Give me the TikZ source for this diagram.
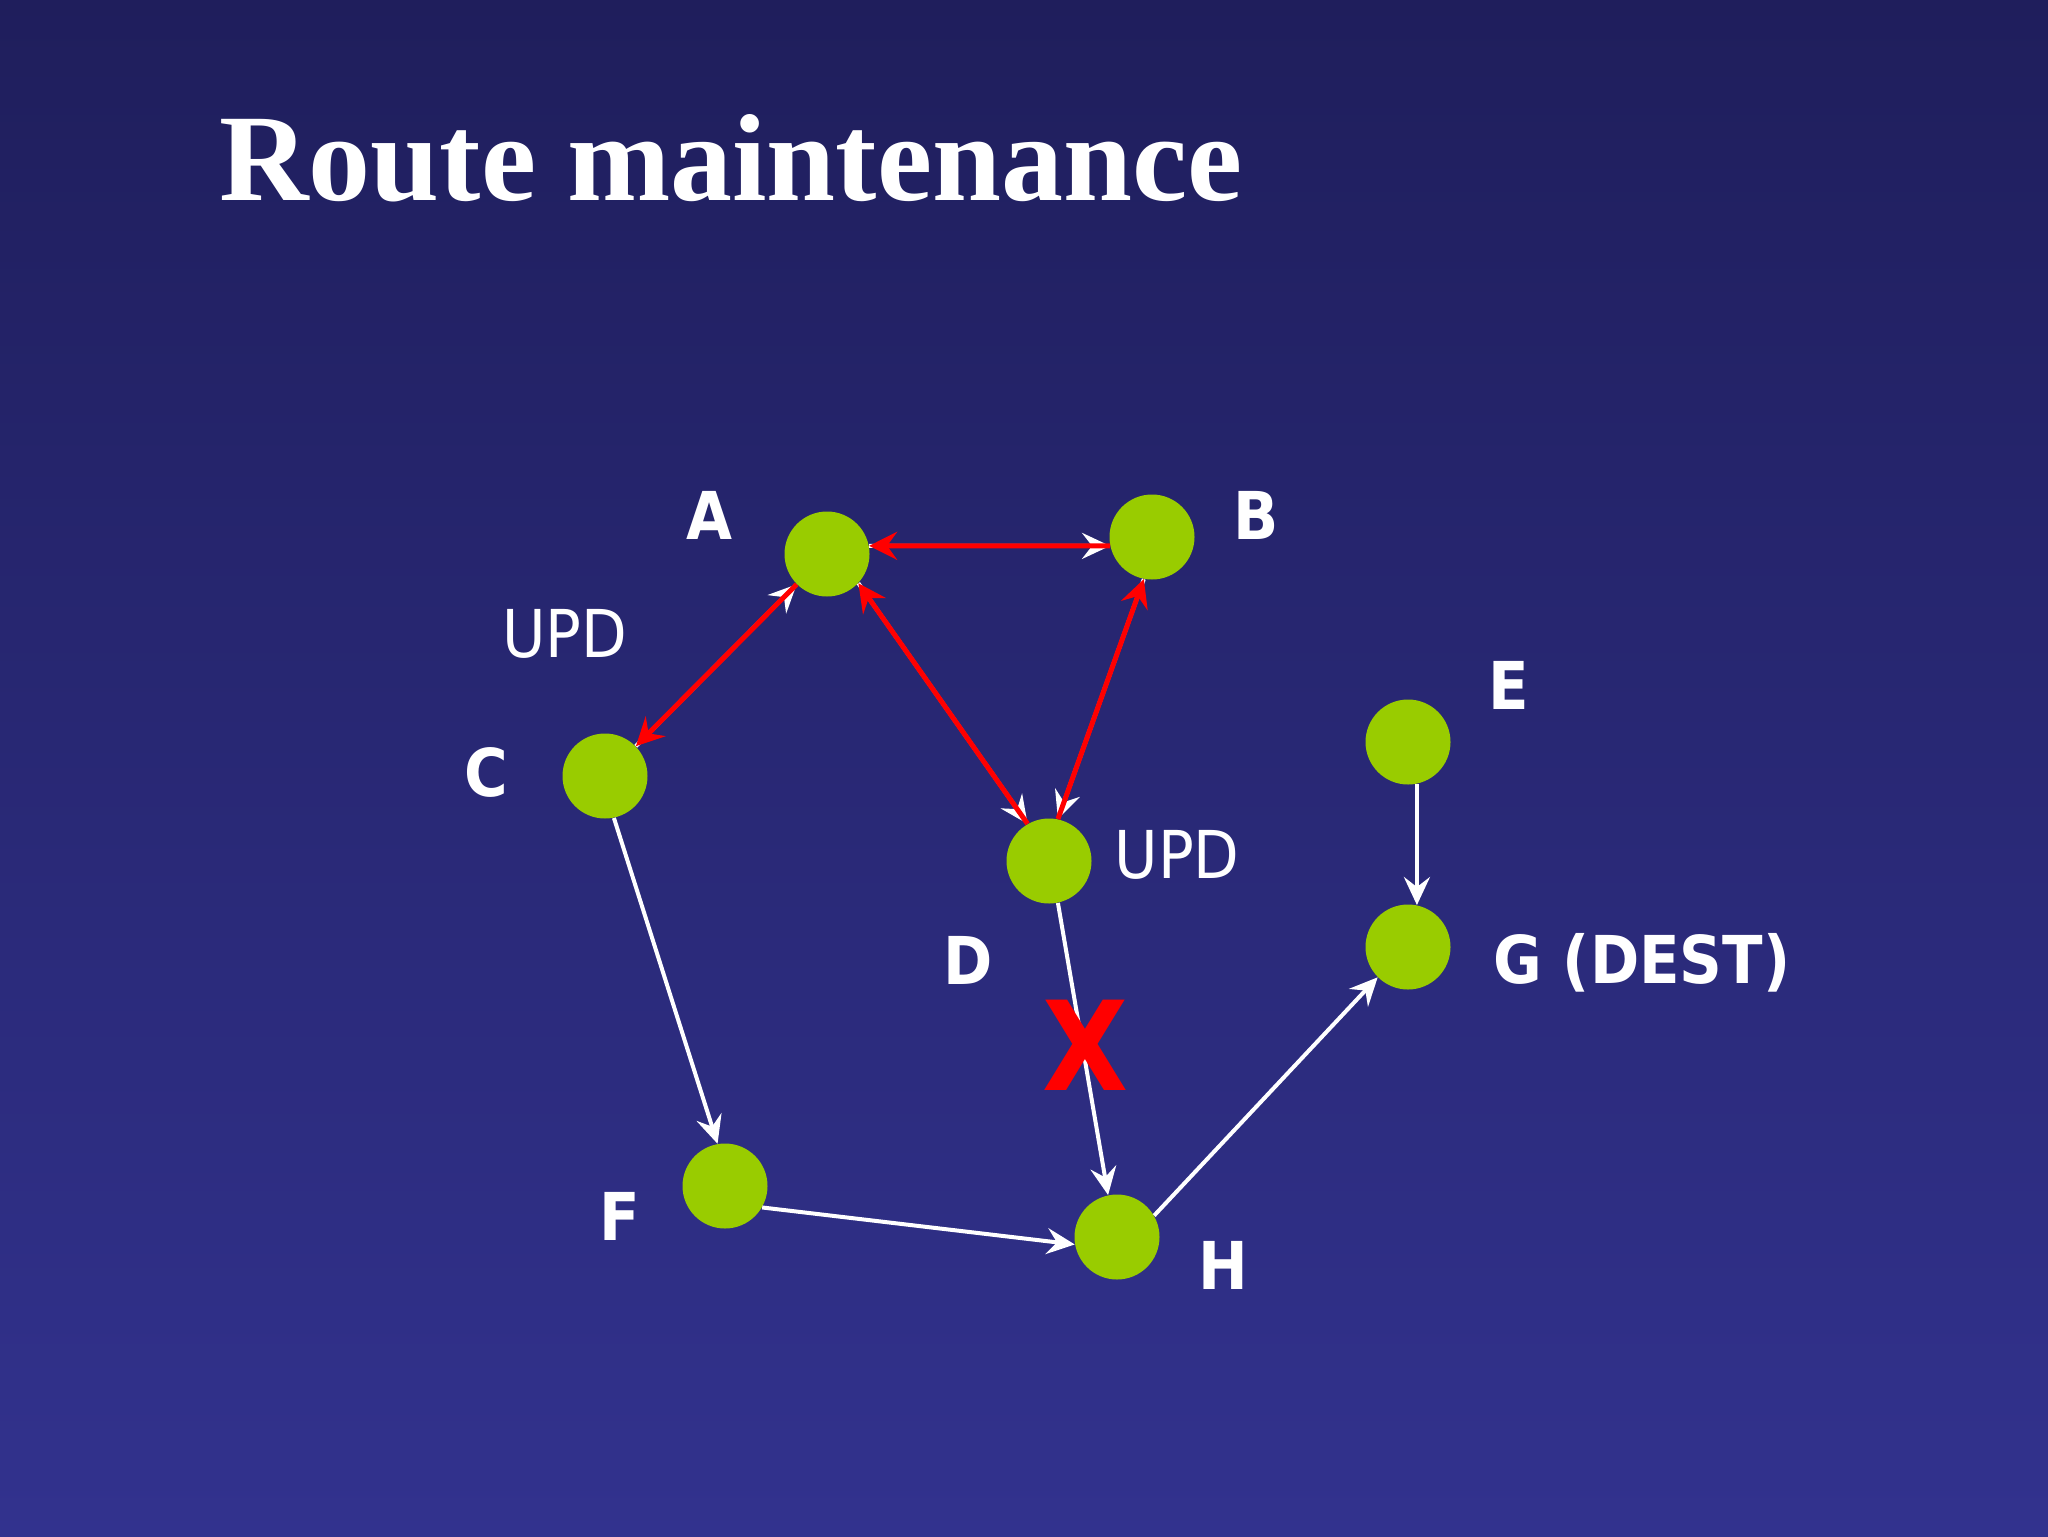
\documentclass[tikz,border=0pt]{standalone}
\usepackage{fontspec}
\setmainfont{Liberation Serif}
\newfontfamily\lblfont{DejaVu Sans Condensed}
\usetikzlibrary{arrows.meta}
\definecolor{bgtop}{RGB}{31,30,92}
\definecolor{bgbot}{RGB}{50,50,142}
\definecolor{nodegreen}{RGB}{153,204,0}
\definecolor{linkred}{RGB}{255,0,0}
\begin{document}
\begin{tikzpicture}[x=0.5pt,y=-0.5pt,
  netnode/.style={circle,fill=nodegreen,minimum size=42.5pt,inner sep=0pt,draw=none},
  lbl/.style={text=white,inner sep=0pt,anchor=base,font=\lblfont\bfseries\fontsize{33}{33}\selectfont},
  upd/.style={text=white,inner sep=0pt,anchor=base,font=\lblfont\fontsize{33}{33}\selectfont},
  wlink/.style={draw=white,line width=2pt,-{Stealth[length=14pt,width=13pt,inset=5pt]}},
  rlink/.style={draw=linkred,line width=2.5pt,-{Stealth[length=14pt,width=14pt,inset=5pt]}},
]
\fill[top color=bgtop,bottom color=bgbot] (0,0) rectangle (2048,1536);
\useasboundingbox (0,0) rectangle (2048,1536);

\node[text=white,inner sep=0pt,anchor=base west,font=\bfseries\fontsize{62}{62}\selectfont] (title) at (219,200) {Route maintenance};

\node[netnode] (A) at (827,554) {};
\node[netnode] (B) at (1152,537) {};
\node[netnode] (C) at (605,776) {};
\node[netnode] (D) at (1049,861) {};
\node[netnode] (E) at (1408,742) {};
\node[netnode] (G) at (1408,947) {};
\node[netnode] (F) at (725,1186) {};
\node[netnode] (H) at (1117,1237) {};

\node[lbl] (lA) at (709,539) {A};
\node[lbl] (lB) at (1256,539) {B};
\node[lbl] (lC) at (486,796) {C};
\node[lbl] (lE) at (1509,709) {E};
\node[lbl] (lD) at (968,984) {D};
\node[lbl] (lG) at (1642,983) {G (DEST)};
\node[lbl] (lF) at (620,1240) {F};
\node[lbl] (lH) at (1223,1289) {H};
\node[upd] (u1) at (565,657) {UPD};
\node[upd] (u2) at (1177,878) {UPD};

% white route links
\draw[wlink] (C.-78) -- (F.100);
\draw[wlink] (F.-30) -- (H.190);
\draw[wlink] (D.-78) -- (H.102);
\draw[wlink] (H.30) -- (G.225);
\draw[wlink] (E.-78) -- (G.78);

% double links: white under, red over
\draw[wlink] (A.11) -- (B.192);
\draw[rlink] (B.192) -- (A.11);
\draw[wlink] (C.44) -- (A.225);
\draw[rlink] (A.225) -- (C.44);
\draw[wlink] (A.-43) -- (D.120);
\draw[rlink] (D.120) -- (A.-43);
\draw[wlink] (B.-101) -- (D.78);
\draw[rlink] (D.78) -- (B.-101);

\node[text=linkred,inner sep=0pt,anchor=base,font=\lblfont\bfseries\fontsize{62}{62}\selectfont] (X) at (1086,1090) {X};
\end{tikzpicture}
\end{document}
